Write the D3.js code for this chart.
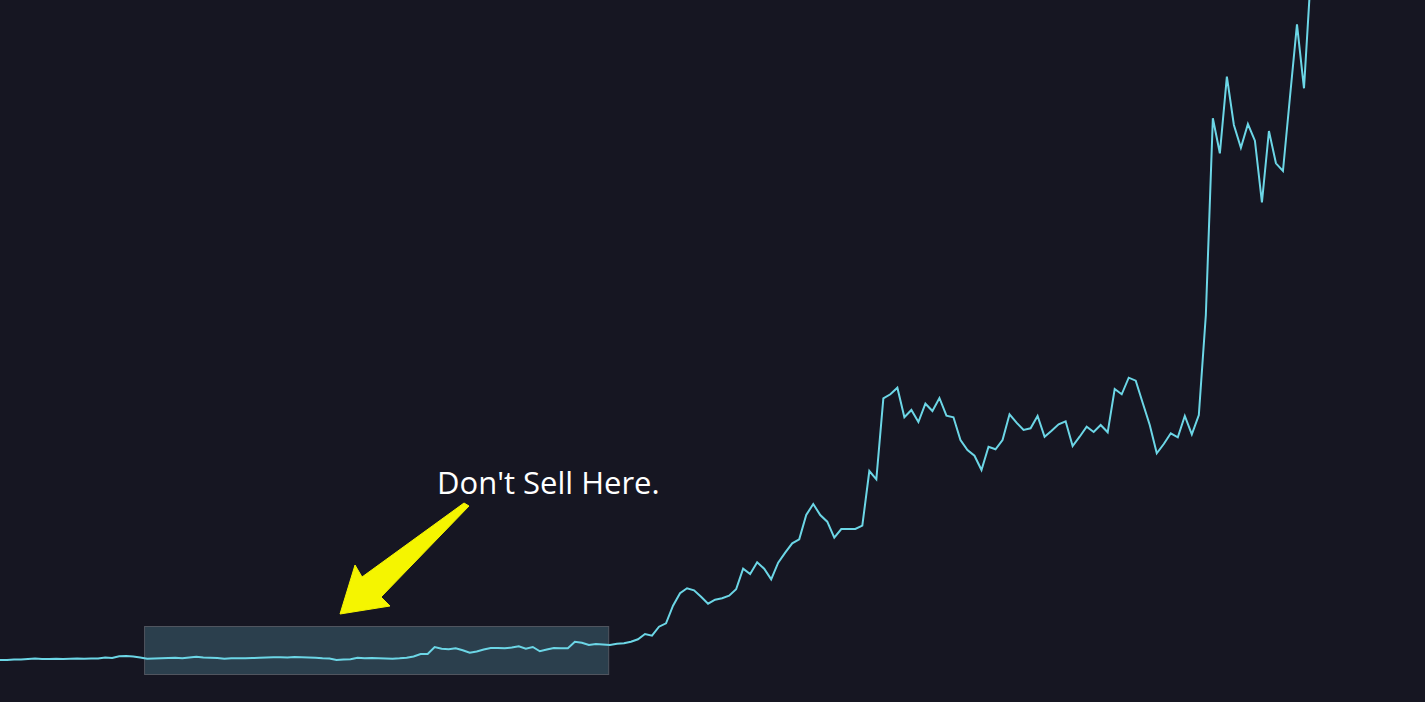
<!DOCTYPE html>
<html>
<head>
<meta charset="utf-8">
<script src="https://cdn.jsdelivr.net/npm/d3@7"></script>
<style>
  html, body { margin: 0; padding: 0; background: #161622; overflow: hidden; }
  svg { display: block; }
</style>
</head>
<body>
<svg id="chart" width="1425" height="702"></svg>
<script>
// ---- data (period index -> price level) ----
const periods = d3.range(188);
const prices = [
  40, 40, 40.5, 40.5, 41, 41.5, 41, 41, 41.3, 41, 41.3, 41.5, 41.3, 41.5, 41.5, 42.5, 42, 43.7, 44, 43.5,
  42.5, 41.3, 41.5, 41.7, 42, 42.3, 41.7, 42.5, 43.3, 42.5, 42.3, 42, 41.3, 41.7, 41.7, 41.7, 42, 42.2, 42.5, 42.7,
  42.7, 42.5, 43, 42.7, 42.5, 42.2, 41.7, 41.5, 40, 40.5, 40.7, 42.3, 41.7, 42, 41.7, 41.5, 41.3, 41.7, 42.3, 43.5,
  46, 46, 53, 51.3, 50.7, 51.7, 49.7, 47.3, 48.5, 50.5, 52, 52, 51.7, 52.5, 53.7, 51.3, 53, 48.7, 50.5, 52,
  51.7, 51.7, 58.3, 57.3, 55, 56, 55.5, 55, 56.3, 56.7, 58.3, 60.7, 66, 64.3, 73.3, 76.7, 94.3, 106.7, 111.7, 109.7,
  103.3, 96.3, 100.3, 101.7, 104.3, 110.7, 131.3, 126, 137.7, 131.3, 120.7, 137.3, 147.3, 156.7, 160.7, 185, 196, 185, 178.3, 162.3,
  171, 171, 171, 174.3, 229, 220.7, 301.7, 305.7, 312.3, 282.7, 290, 278, 296.3, 289, 302, 284.3, 282.7, 260, 250, 244.3,
  230, 253.3, 250.7, 260, 285.7, 277.3, 270, 271.7, 284, 263.3, 269.3, 275.7, 278.7, 254, 263.3, 273.3, 268, 275, 267.7, 311,
  305.7, 322.3, 319.3, 297, 275, 246.7, 256, 266.7, 262.7, 284, 265.7, 285, 385, 581.7, 546.7, 623.3, 575, 552.3, 576, 559.3,
  497.7, 569, 536.7, 529, 603, 675.7, 611.7, 728
];

// highlighted zone and annotation (data coordinates)
const zoneStart = 20.55, zoneEnd = 86.75;      // period indices
const zoneLow = 26, zoneHigh = 74;              // price levels
const noteText = "Don't Sell Here.";
const arrowTip = { period: 48.5, price: 86 };

// ---- layout ----
const W = 1425, H = 702;
const svg = d3.select("#chart");
svg.append("rect").attr("width", W).attr("height", H).attr("fill", "#161622");

const x = d3.scaleLinear().domain([0, 187]).range([0, 1311]);
const y = d3.scaleLinear().domain([0, 700]).range([700, 0]);

// highlight box
svg.append("rect")
  .attr("x", x(zoneStart) + 0.5)
  .attr("y", y(zoneHigh) + 0.5)
  .attr("width", x(zoneEnd) - x(zoneStart))
  .attr("height", y(zoneLow) - y(zoneHigh))
  .attr("fill", "#2b3f4d")
  .attr("stroke", "#50555f")
  .attr("stroke-width", 1);

// price line
const line = d3.line().x((d, i) => x(periods[i])).y(d => y(d));
svg.append("path")
  .datum(prices)
  .attr("d", line)
  .attr("fill", "none")
  .attr("stroke", "#6cd6e6")
  .attr("stroke-width", 2)
  .attr("stroke-linejoin", "miter");

// arrow annotation
const tx = x(arrowTip.period), ty = y(arrowTip.price);
const arrowShape = [[0, 0], [15, -49], [22, -37], [124, -111], [129, -108], [41, -17], [50, -8]];
svg.append("polygon")
  .attr("points", arrowShape.map(p => [tx + p[0], ty + p[1]].join(",")).join(" "))
  .attr("fill", "#f5f500")
  .attr("stroke", "#f5f500")
  .attr("stroke-width", 1)
  .attr("stroke-linejoin", "round");

const t = svg.append("text")
  .attr("x", tx + 97)
  .attr("y", ty - 120)
  .attr("fill", "#ffffff")
  .attr("font-family", "'Open Sans', 'DejaVu Sans', sans-serif")
  .attr("font-size", 31)
  .attr("font-weight", 500)
  .text(noteText);
const len = t.node().getComputedTextLength();
if (Math.abs(len - 222) > 4) t.attr("textLength", 222).attr("lengthAdjust", "spacingAndGlyphs");
</script>
</body>
</html>
